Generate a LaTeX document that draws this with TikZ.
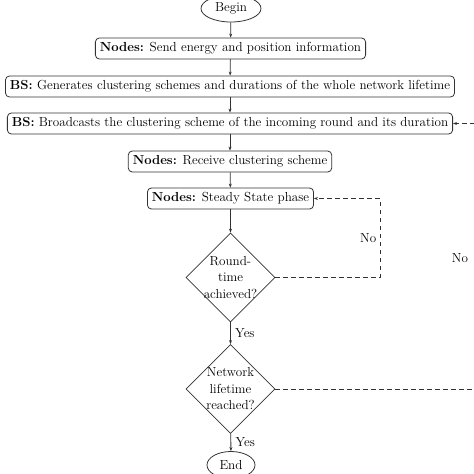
\documentclass[tikz,border=0pt]{standalone}
\usetikzlibrary{shapes.geometric,arrows.meta}
\begin{document}
\begin{tikzpicture}[x=1pt,y=-1pt,
  font=\fontsize{13.1}{16}\selectfont,
  box/.style={draw=black!80, rounded corners=4pt, minimum height=21pt, inner xsep=4.5pt, inner ysep=0pt, line width=0.8pt},
  oval/.style={draw=black!80, ellipse, minimum width=60pt, minimum height=27pt, inner sep=0pt, line width=0.8pt},
  dia/.style={draw=black!80, diamond, minimum width=89pt, minimum height=89pt, inner sep=0pt, line width=0.8pt},
  dtext/.style={align=center, text width=60pt, font=\fontsize{13.1}{16.5}\selectfont},
  arr/.style={draw=black!80, line width=0.8pt, -{Stealth[length=4pt,width=3pt]}},
  darr/.style={draw=black!80, line width=0.8pt, dash pattern=on 4.5pt off 3.5pt, -{Stealth[length=4pt,width=3pt]}},
  lbl/.style={font=\fontsize{13.1}{16}\selectfont}]
\useasboundingbox (0,0) rectangle (474,474);
\begin{scope}
\clip (0,0) rectangle (474,474);
\node[oval] (begin) at (231,8.5) {Begin};
\node[box] (n1) at (230.5,48.5) {\textbf{Nodes:} Send energy and position information};
\node[box] (n2) at (230,86.5) {\textbf{BS:} Generates clustering schemes and durations of the whole network lifetime};
\node[box] (n3) at (230,123.5) {\textbf{BS:} Broadcasts the clustering scheme of the incoming round and its duration};
\node[box] (n4) at (230,161.5) {\textbf{Nodes:} Receive clustering scheme};
\node[box] (n5) at (230.5,198.5) {\textbf{Nodes:} Steady State phase};
\node[dia] (d1) at (230.5,277.5) {};
\node[dtext] (d1t) at (d1.center) {Round-\\time\\achieved?};
\node[dia] (d2) at (230.5,389) {};
\node[dtext] (d2t) at (d2.center) {Network\\lifetime\\reached?};
\node[oval, minimum width=48pt] (end) at (231,465) {End};
\coordinate (c1a) at (380,277.5);
\coordinate (c1b) at (380,198.5);
\coordinate (c2a) at (474.2,389);
\coordinate (c2b) at (474.2,123.5);
\draw[arr] (begin) -- (n1);
\draw[arr] (n1) -- (n2);
\draw[arr] (n2) -- (n3);
\draw[arr] (n3) -- (n4);
\draw[arr] (n4) -- (n5);
\draw[arr] (n5) -- (d1);
\draw[arr] (d1) -- node[right, lbl, xshift=1pt] (y1) {Yes} (d2);
\draw[arr] (d2) -- node[right, lbl, xshift=1pt] (y2) {Yes} (end);
\draw[darr] (d1.east) -- (c1a) -- node[left, lbl, pos=0.5] (no1) {No} (c1b) -- (n5.east);
\draw[darr] (d2.east) -- (c2a) -- (c2b) -- (n3.east);
\node[lbl] (no2) at (460,258) {No};
\end{scope}
\end{tikzpicture}
\end{document}
